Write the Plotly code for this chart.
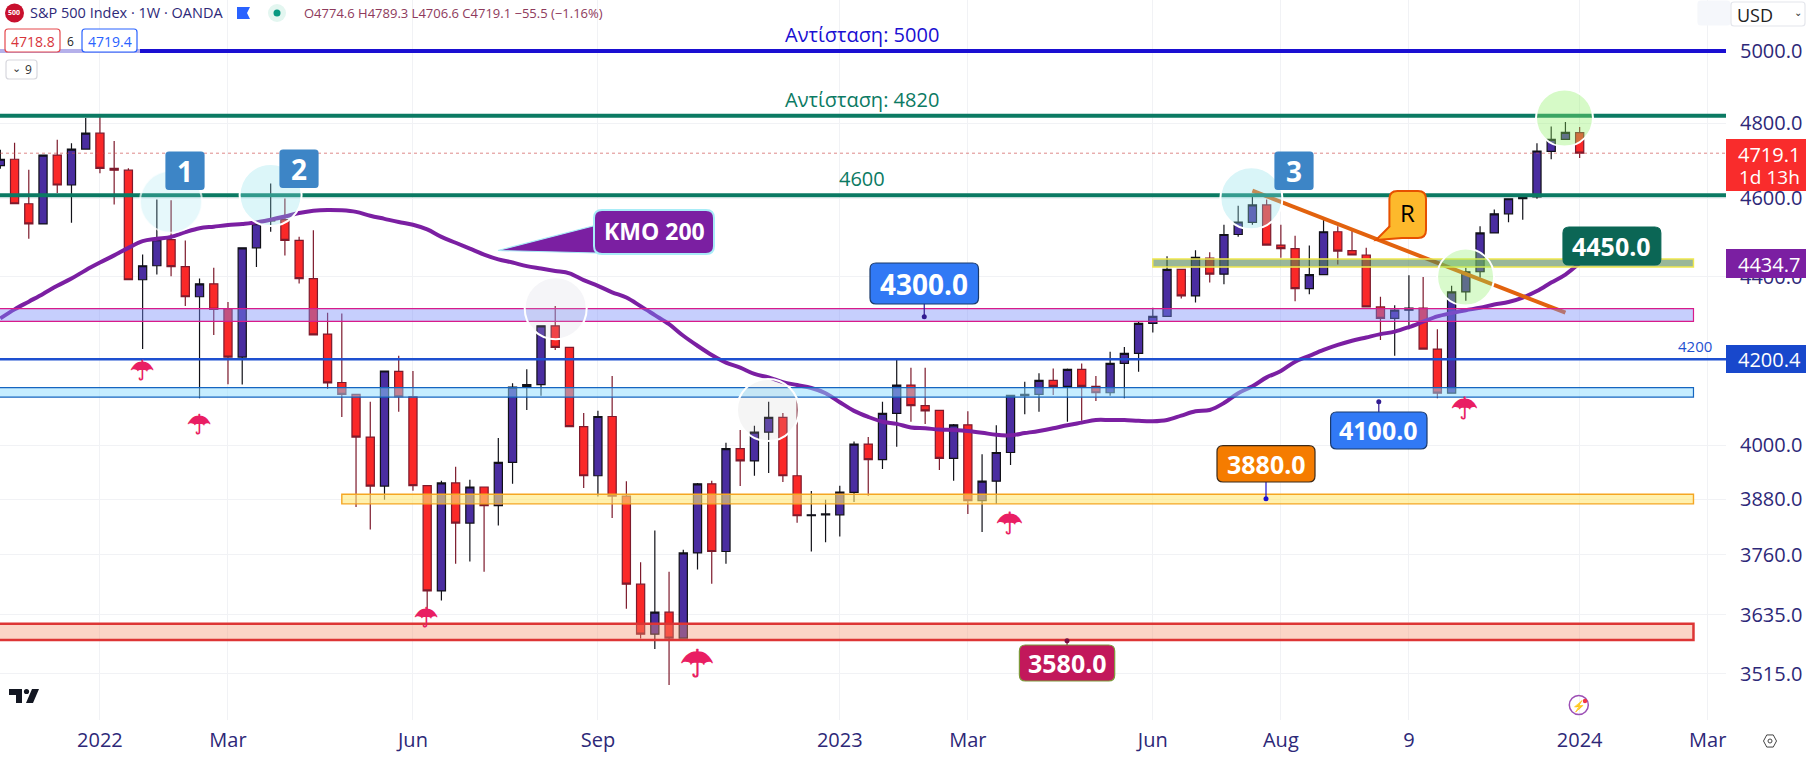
import math
import pandas as pd
import plotly.graph_objects as go

W, H = 1806, 759
PLOT_R, PLOT_B = 1726, 720
FONT = 'Open Sans'
NAVY = '#2d2878'

# weekly candles, 2021-11-15 onwards
dates = pd.date_range('2021-11-15', periods=112, freq='7D')

opens = [
    4686, 4703, 4586, 4534, 4714, 4635, 4730, 4773, 4679, 4674, 4393, 4428, 4494, 4426, 4351, 4383,
    4322, 4205, 4473, 4542, 4545, 4492, 4396, 4260, 4145, 4117, 4019, 3909, 4171, 4112, 3910, 3684,
    3916, 3828, 3907, 3866, 3962, 4136, 4140, 4280, 4228, 4043, 3932, 4066, 3887, 3698, 3595, 3640,
    3587, 3764, 3914, 3767, 3993, 3965, 4030, 4064, 3932, 3844, 3846, 3846, 3895, 4003, 3968, 4073,
    4139, 4091, 4080, 3971, 4047, 3877, 3920, 3984, 4114, 4117, 4150, 4136, 4176, 4136, 4121, 4190,
    4214, 4286, 4303, 4419, 4353, 4447, 4407, 4507, 4538, 4583, 4480, 4471, 4371, 4406, 4514, 4466,
    4455, 4326, 4298, 4318, 4323, 4224, 4120, 4363, 4413, 4511, 4560, 4599, 4604, 4724, 4756, 4774.6,
]
highs = [
    4728, 4747, 4675, 4714, 4755, 4746, 4814, 4818, 4752, 4679, 4456, 4597, 4595, 4492, 4396, 4423,
    4338, 4473, 4541, 4639, 4600, 4501, 4518, 4312, 4310, 4117, 4100, 4172, 4208, 4172, 3910, 3921,
    3952, 3923, 3907, 4017, 4143, 4176, 4280, 4328, 4228, 4074, 4079, 4160, 3920, 3744, 3812, 3724,
    3771, 3916, 3921, 4006, 4035, 4045, 4100, 4074, 4108, 3898, 3879, 3910, 4009, 4019, 4100, 4198,
    4180, 4180, 4080, 4049, 4078, 3980, 4046, 4115, 4147, 4167, 4178, 4178, 4190, 4160, 4218, 4229,
    4292, 4324, 4452, 4420, 4467, 4462, 4532, 4581, 4606, 4597, 4532, 4504, 4479, 4545, 4528, 4516,
    4473, 4351, 4330, 4404, 4400, 4272, 4378, 4423, 4528, 4571, 4600, 4610, 4746, 4791, 4803, 4789.3,
]
lows = [
    4678, 4586, 4496, 4534, 4614, 4537, 4730, 4666, 4584, 4393, 4224, 4406, 4402, 4328, 4108, 4258,
    4141, 4140, 4425, 4514, 4454, 4384, 4258, 4130, 4065, 3863, 3814, 3879, 4077, 3899, 3637, 3664,
    3741, 3746, 3724, 3823, 3914, 4081, 4114, 4222, 4043, 3905, 3886, 3839, 3647, 3586, 3565, 3493,
    3587, 3729, 3699, 3741, 3909, 3932, 3938, 3918, 3829, 3767, 3787, 3799, 3874, 3887, 3947, 3997,
    4054, 4049, 3945, 3921, 3848, 3809, 3870, 3956, 4071, 4077, 4116, 4054, 4056, 4102, 4114, 4108,
    4170, 4264, 4303, 4347, 4337, 4386, 4382, 4501, 4532, 4480, 4448, 4340, 4357, 4406, 4431, 4455,
    4326, 4246, 4208, 4272, 4224, 4108, 4120, 4341, 4398, 4511, 4538, 4545, 4599, 4703, 4756, 4706.6,
]
closes = [
    4703, 4586, 4534, 4714, 4635, 4730, 4773, 4679, 4674, 4393, 4428, 4494, 4426, 4351, 4383, 4320,
    4205, 4473, 4535, 4545, 4492, 4396, 4258, 4144, 4117, 4019, 3909, 4172, 4112, 3910, 3684, 3916,
    3828, 3907, 3866, 3962, 4134, 4140, 4280, 4228, 4043, 3932, 4066, 3887, 3698, 3595, 3640, 3587,
    3764, 3914, 3767, 3993, 3965, 4030, 4064, 3932, 3844, 3846, 3848, 3896, 4003, 3968, 4073, 4139,
    4091, 4079, 3971, 4047, 3877, 3920, 3984, 4115, 4117, 4150, 4136, 4176, 4136, 4121, 4190, 4214,
    4286, 4303, 4419, 4353, 4449, 4407, 4507, 4539, 4583, 4480, 4471, 4371, 4406, 4514, 4465, 4455,
    4326, 4298, 4318, 4323, 4224, 4120, 4363, 4413, 4511, 4560, 4599, 4604, 4725, 4756, 4775, 4719.1,
]
sma200 = [
    4298, 4320, 4339, 4358, 4378, 4396, 4417, 4436, 4454, 4473, 4490, 4496, 4501, 4513, 4523, 4527,
    4531, 4534, 4538, 4545, 4553, 4562, 4568, 4570, 4569, 4565, 4555, 4547, 4539, 4532, 4520, 4501,
    4486, 4471, 4456, 4444, 4436, 4427, 4421, 4415, 4409, 4392, 4378, 4362, 4349, 4328, 4306, 4284,
    4256, 4232, 4210, 4192, 4180, 4165, 4157, 4146, 4139, 4132, 4120, 4099, 4079, 4065, 4054, 4049,
    4041, 4039, 4036, 4035, 4033, 4029, 4024, 4023, 4028, 4033, 4039, 4046, 4052, 4058, 4058, 4058,
    4056, 4055, 4058, 4068, 4078, 4081, 4097, 4120, 4136, 4157, 4172, 4194, 4208, 4222, 4234, 4244,
    4252, 4260, 4266, 4277, 4290, 4303, 4311, 4318, 4324, 4332, 4338, 4349, 4365, 4386, 4406, 4434.7,
]

y_ticks = [5000, 4800, 4600, 4400, 4200, 4000, 3880, 3760, 3635, 3515]
x_ticks = ['2022-01-03', '2022-03-07', '2022-06-06', '2022-09-05', '2023-01-02', '2023-03-06',
           '2023-06-05', '2023-08-07', '2023-10-09', '2024-01-01', '2024-03-04']
x_labels = ['2022', 'Mar', 'Jun', 'Sep', '2023', 'Mar', 'Jun', 'Aug', '9', '2024', 'Mar']

last_price = 4719.1
res_lines = [(5000, '#1a0fd2', 4), (4820, '#0b7a63', 4), (4608, '#0b7a63', 4), (4200, '#1e50d0', 2.5)]
X_LEFT, X_RIGHT = '2021-11-14 20:00', '2024-03-13'
OFF_LEFT = '2021-11-01'
BAND_END = '2024-02-26'
# bottom, top, start, fill, border, border width
bands = [
    (4291, 4322, OFF_LEFT, 'rgba(120,140,250,0.42)', '#d81b8a', 1.2),
    (4111, 4133, OFF_LEFT, 'rgba(140,220,255,0.5)', '#1565c0', 1.2),
    (3870, 3891, '2022-05-02', 'rgba(255,232,120,0.6)', '#f5a623', 1.4),
    (3583, 3616, OFF_LEFT, 'rgba(245,150,115,0.4)', '#dd3535', 2.5),
    (4425, 4445, '2023-06-05', 'rgba(85,135,85,0.6)', '#efe84e', 1.4),
]


def px(x):
    return x / W


def py(y):
    return 1 - y / H


def round_rect(x0, y0, x1, y1, r=6):
    a, b, c, d = px(x0), py(y0), px(x1), py(y1)
    rx, ry = r / W, r / H
    return (f'M{a + rx},{b} L{c - rx},{b} Q{c},{b} {c},{b - ry} L{c},{d + ry} Q{c},{d} {c - rx},{d} '
            f'L{a + rx},{d} Q{a},{d} {a},{d + ry} L{a},{b - ry} Q{a},{b} {a + rx},{b} Z')


shapes = []
annots = []


def text(x, y, s, size, color, anchor='center'):
    annots.append(dict(xref='paper', yref='paper', x=px(x), y=py(y), text=s, showarrow=False,
                       xanchor=anchor, yanchor='middle', font=dict(family=FONT, size=size, color=color)))


def box(x0, y0, x1, y1, fill, border=None, r=6, bw=1.2):
    shapes.append(dict(type='path', path=round_rect(x0, y0, x1, y1, r), xref='paper', yref='paper',
                       fillcolor=fill, line=dict(color=border or fill, width=bw), layer='above'))


def tag(x0, y0, x1, y1, s, fill, border, size, dot=None, dot_color='#311b92'):
    if dot:
        cx = (x0 + x1) / 2
        shapes.append(dict(type='line', xref='paper', yref='paper', x0=px(cx), x1=px(cx), y0=py(dot),
                           y1=py(y1 if dot > y1 else y0), line=dict(color=dot_color, width=1.2), layer='above'))
        shapes.append(dict(type='circle', xref='paper', yref='paper', x0=px(cx - 2.5), x1=px(cx + 2.5),
                           y0=py(dot - 2.5), y1=py(dot + 2.5), fillcolor=dot_color,
                           line=dict(color=dot_color, width=0), layer='above'))
    box(x0, y0, x1, y1, fill, border)
    text((x0 + x1) / 2, (y0 + y1) / 2, f'<b>{s}</b>', size, 'white')


def circle(cx, cy, r, fill, edge='white', w=2):
    shapes.append(dict(type='circle', xref='paper', yref='paper', x0=px(cx - r), x1=px(cx + r),
                       y0=py(cy - r), y1=py(cy + r), fillcolor=fill, line=dict(color=edge, width=w), layer='above'))


# bands and level lines
for lo, hi, start, fill, edge, bw in bands:
    shapes.append(dict(type='rect', xref='x', yref='y', x0=start, x1=BAND_END, y0=lo, y1=hi,
                       fillcolor=fill, line=dict(color=edge, width=bw), layer='above'))
for lvl, col, lw in res_lines:
    shapes.append(dict(type='line', xref='x', yref='y', x0=X_LEFT, x1=X_RIGHT, y0=lvl, y1=lvl,
                       line=dict(color=col, width=lw), layer='above'))
shapes.append(dict(type='line', xref='x', yref='y', x0=X_LEFT, x1=X_RIGHT, y0=last_price, y1=last_price,
                   line=dict(color='rgba(205,70,70,0.8)', width=0.8, dash='dot'), layer='above'))

# highlighted circles
circle(171, 201.7, 31, 'rgba(140,225,235,0.22)', 'rgba(255,255,255,0.7)')
circle(270.6, 195, 31, 'rgba(140,225,235,0.3)')
circle(1251.4, 198.3, 31, 'rgba(140,225,235,0.33)')
circle(555.7, 308.3, 31, 'rgba(200,200,215,0.18)')
circle(768, 410, 31, 'rgba(200,200,200,0.18)')
circle(1465.6, 277, 28.5, 'rgba(140,240,100,0.33)')
circle(1564.5, 118, 28.5, 'rgba(140,240,100,0.36)')

# trend line callout
box(1389.4, 191, 1426, 238, '#fdb92c', '#e65100', 8, 2)
shapes.append(dict(type='path', xref='paper', yref='paper', layer='above', fillcolor='#fdb92c',
                   line=dict(color='#e65100', width=2),
                   path=f'M{px(1390)},{py(226)} L{px(1376)},{py(240)} L{px(1402)},{py(238)}'))
text(1407.5, 213, 'R', 24, 'black')

# KMO 200 callout
shapes.append(dict(type='path', xref='paper', yref='paper', layer='above', fillcolor='#7b1fa2',
                   line=dict(color='#a8ecf7', width=1.2),
                   path=f'M{px(498)},{py(250.5)} L{px(597)},{py(225)} L{px(597)},{py(253)} Z'))
box(594, 210, 714, 254, '#7b1fa2', '#a8ecf7', 8, 2)
text(654, 231, '<b>KMO 200</b>', 23, 'white')

# number boxes
for x0, y0, s in [(166, 152, '1'), (280, 150, '2'), (1275, 152, '3')]:
    box(x0, y0, x0 + 38, y0 + 37.5, '#3d85c6', None, 3)
    text(x0 + 19, y0 + 19, f'<b>{s}</b>', 28, 'white')

# value tags
tag(870, 263, 978.5, 304, '4300.0', '#3179f5', '#1b3a6b', 28, dot=316.7)
tag(1330.6, 412, 1427, 449, '4100.0', '#3179f5', '#1b3a6b', 25, dot=401.7)
tag(1217, 445.7, 1315, 482, '3880.0', '#f57c00', '#3b2a1a', 25, dot=498.7, dot_color='#1a0fd2')
tag(1019.4, 645, 1114.7, 681, '3580.0', '#c2185b', '#7d9a3a', 25, dot=640.7, dot_color='#7a1040')
tag(1563, 227, 1660.8, 265, '4450.0', '#0b6655', None, 25)

# level captions
text(862, 34, 'Αντίσταση: 5000', 20, '#1a0fd2')
text(862, 99, 'Αντίσταση: 4820', 20, '#0b7a63')
text(862, 178, '4600', 20, '#0b7a63')
text(1695, 346, '4200', 15, '#1e50d0')

# hammers
for x, y, s in [(142, 369, 27), (199.4, 423, 27), (426, 616, 27), (697, 662, 38), (1009.5, 522.7, 30), (1464.8, 407.7, 30)]:
    text(x, y, '<b>☂</b>', s, '#e91e63')

# price tags on the scale
for y0, y1, col in [(139, 191, '#f92c2c'), (249, 278, '#7b1fa2'), (345, 373, '#1848cc')]:
    shapes.append(dict(type='rect', xref='paper', yref='paper', x0=px(PLOT_R), x1=1, y0=py(y0), y1=py(y1),
                       fillcolor=col, line=dict(width=0), layer='above'))
text(1769, 154, '4719.1', 20, 'white')
text(1769, 177, '1d 13h', 19, 'white')
text(1769, 264, '4434.7', 20, 'white')
text(1769, 360, '4200.4', 20, 'white')

# header
circle(14.5, 13, 9.5, '#c8102e', '#c8102e', 0)
text(14.5, 13, '<b>500</b>', 7, 'white')
text(28, 13, 'S&P 500 Index · 1W · OANDA', 14.5, NAVY, 'left')
shapes.append(dict(type='path', xref='paper', yref='paper', layer='above', fillcolor='#2962ff', line=dict(width=0),
                   path=f'M{px(237)},{py(7)} L{px(250)},{py(7)} L{px(247)},{py(13)} L{px(250)},{py(19)} L{px(237)},{py(19)} Z'))
circle(277, 13, 9, '#e3f6f0', '#e3f6f0', 0)
circle(277, 13, 3.5, '#089981', '#089981', 0)
text(302, 13, 'O4774.6 H4789.3 L4706.6 C4719.1 −55.5 (−1.16%)', 13, '#8e3a5c', 'left')
shapes.append(dict(type='line', xref='paper', yref='paper', x0=0, x1=px(140), y0=py(51), y1=py(51),
                   line=dict(color='#b5b0ea', width=4), layer='above'))
box(5, 29, 60, 52, 'white', '#e5484d', 3)
text(32.5, 41, '4718.8', 14, '#d7343a')
text(70, 41, '6', 12, '#222')
box(82, 29, 137, 52, 'white', '#2962ff', 3)
text(109.5, 41, '4719.4', 14, '#2962ff')
box(6, 60, 37, 79, 'white', '#d8d8de', 3)
text(16, 67, '⌄', 11, '#333')
text(29, 69, '9', 12, '#333')
box(1698, 1, 1730, 25, '#f5f7fb', None, 3)
box(1731, 2, 1805, 26, 'white', '#e4e6ec', 3)
text(1735, 15, 'USD', 18, '#222', 'left')
text(1798, 12, '⌄', 10, '#333')

# tradingview mark
shapes.append(dict(type='path', xref='paper', yref='paper', layer='above', fillcolor='#131722', line=dict(width=0),
                   path=(f'M{px(9)},{py(689)} L{px(22)},{py(689)} L{px(22)},{py(703)} L{px(16)},{py(703)} '
                         f'L{px(16)},{py(695)} L{px(9)},{py(695)} Z '
                         f'M{px(32)},{py(689)} L{px(39)},{py(689)} L{px(33)},{py(703)} L{px(26)},{py(703)} Z')))
circle(26.5, 691.5, 2.6, '#131722', '#131722', 0)

# bottom icons
circle(1578.8, 705, 9.5, 'rgba(255,255,255,0)', '#9c4fb5', 1.5)
text(1578.8, 705, '⚡', 11, '#9c4fb5')
circle(1585, 701, 2.2, '#f23645', '#f23645', 0)
hex_pts = [(1770 + 6.5 * math.cos(math.radians(a)), 741 + 7 * math.sin(math.radians(a))) for a in range(0, 360, 60)]
shapes.append(dict(type='path', xref='paper', yref='paper', layer='above', line=dict(color='#444', width=1),
                   path='M' + ' L'.join(f'{px(a)},{py(b)}' for a, b in hex_pts) + ' Z'))
circle(1770, 741, 2, 'white', '#444', 1)

fig = go.Figure()
fig.add_trace(go.Candlestick(
    x=dates, open=opens, high=highs, low=lows, close=closes,
    increasing=dict(fillcolor='#4a2da0', line=dict(color='#111118', width=1.2)),
    decreasing=dict(fillcolor='#fa2828', line=dict(color='#7d1a2c', width=1.2)),
    whiskerwidth=0, showlegend=False,
))
fig.add_trace(go.Scatter(x=dates, y=sma200, mode='lines', line=dict(color='#7b1fa2', width=4, shape='spline'),
                         showlegend=False))
fig.add_trace(go.Scatter(x=['2023-07-24', '2023-12-25'], y=[4620, 4312], mode='lines',
                         line=dict(color='#e2620e', width=4), showlegend=False))

fig.update_layout(
    width=W, height=H, margin=dict(l=0, r=0, t=0, b=0), paper_bgcolor='white', plot_bgcolor='white',
    shapes=shapes, annotations=annots, boxgap=0.18, showlegend=False,
    xaxis=dict(domain=[0, PLOT_R / W], range=[X_LEFT, X_RIGHT], type='date', rangeslider=dict(visible=False),
               tickmode='array', tickvals=x_ticks, ticktext=x_labels, showgrid=True, gridcolor='#f1f2f5', gridwidth=1,
               zeroline=False, showline=False, ticks='outside', ticklen=2, tickcolor='rgba(0,0,0,0)',
               tickfont=dict(family=FONT, size=20, color=NAVY)),
    yaxis=dict(domain=[1 - PLOT_B / H, 1], side='right', type='log', range=[3.5346, 3.7115],
               tickmode='array', tickvals=y_ticks, ticktext=[f'{v:.1f}' for v in y_ticks],
               showgrid=True, gridcolor='#f1f2f5', gridwidth=1, zeroline=False, showline=False,
               ticks='outside', ticklen=9, tickcolor='rgba(0,0,0,0)',
               tickfont=dict(family=FONT, size=20, color=NAVY)),
)

# the default body margin would push the chart off the window edge
fig.write_html('out.html', config={'displayModeBar': False},
               post_script="document.body.style.margin='0';document.documentElement.style.overflow='hidden';")
